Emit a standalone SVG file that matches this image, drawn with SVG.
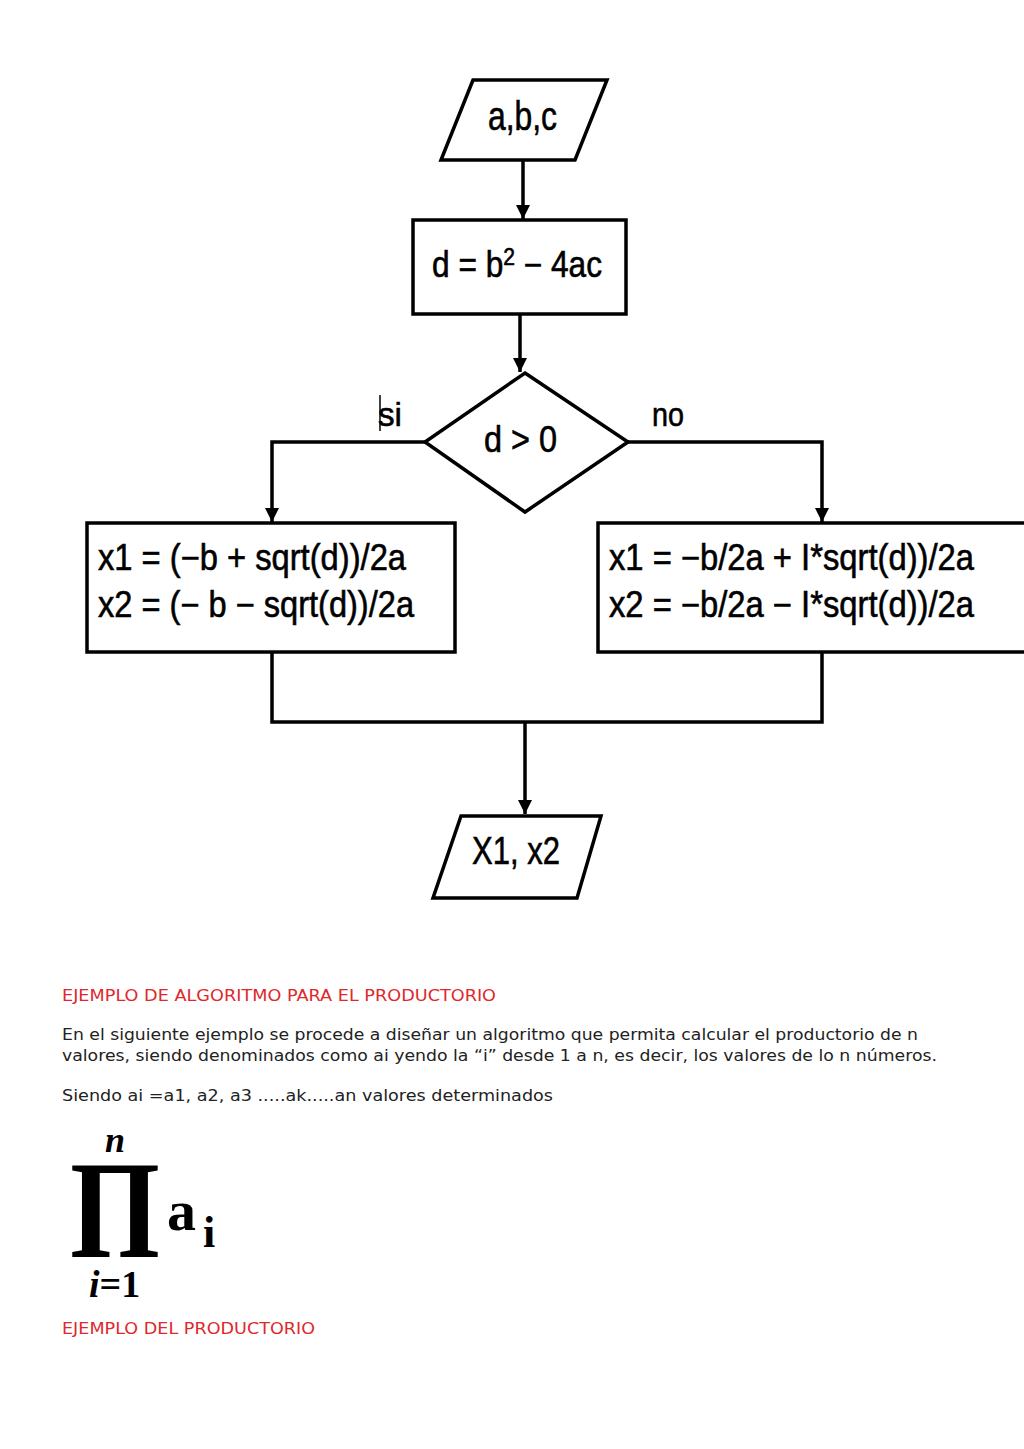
<svg xmlns="http://www.w3.org/2000/svg" width="1024" height="1449" viewBox="0 0 1024 1449">
<style>
.shape{fill:#fff;stroke:#000;stroke-width:3.5;stroke-linejoin:miter}
.conn{fill:none;stroke:#000;stroke-width:3.5}
.fc{font-family:"Liberation Sans",Arial,sans-serif;fill:#000;stroke:#000;stroke-width:0.6}
.body{font-family:"DejaVu Sans",Verdana,sans-serif;font-size:15px;fill:#222}
.red{font-family:"DejaVu Sans",Verdana,sans-serif;font-size:15px;fill:#e0282c}
.math{font-family:"Liberation Serif","Times New Roman",serif;fill:#000;font-weight:bold}
</style>
<defs>
<marker id="arr" viewBox="0 0 10 10" refX="10" refY="5" markerWidth="4" markerHeight="4" markerUnits="strokeWidth" orient="auto">
<path d="M0,0 L10,5 L0,10 z" fill="#000"/>
</marker>
</defs>
<rect width="1024" height="1449" fill="#fff"/>
<g id="connectors">
<line class="conn" x1="523" y1="161" x2="523" y2="219" marker-end="url(#arr)"/>
<line class="conn" x1="520" y1="314" x2="520" y2="372" marker-end="url(#arr)"/>
<polyline class="conn" points="425,442 272,442 272,522" marker-end="url(#arr)"/>
<polyline class="conn" points="628,442 822,442 822,522" marker-end="url(#arr)"/>
<polyline class="conn" points="272,652 272,722 822,722 822,652"/>
<line class="conn" x1="525" y1="722" x2="525" y2="814" marker-end="url(#arr)"/>
<text class="fc" x="378" y="426" font-size="34" textLength="24" lengthAdjust="spacingAndGlyphs">si</text>
<line x1="380" y1="395" x2="380" y2="431" stroke="#000" stroke-width="1.5"/>
<text class="fc" x="652" y="426" font-size="34" textLength="32" lengthAdjust="spacingAndGlyphs">no</text>
</g>
<g id="input">
<polygon class="shape" points="473,80 607,80 575,160 441,160"/>
<text class="fc" x="488" y="130" font-size="40" textLength="69" lengthAdjust="spacingAndGlyphs">a,b,c</text>
</g>
<g id="calc-d">
<rect class="shape" x="413" y="220" width="213" height="94"/>
<text class="fc" x="432" y="277" font-size="36" textLength="170" lengthAdjust="spacingAndGlyphs">d = b<tspan font-size="24" dy="-12">2</tspan><tspan dy="12"> − 4ac</tspan></text>
</g>
<g id="decision">
<polygon class="shape" points="525,373 628,442 525,512 425,442"/>
<text class="fc" x="484" y="452" font-size="36" textLength="73" lengthAdjust="spacingAndGlyphs">d &gt; 0</text>
</g>
<g id="real-roots">
<rect class="shape" x="87" y="523" width="368" height="129"/>
<text class="fc" x="98" y="570" font-size="36" textLength="308" lengthAdjust="spacingAndGlyphs">x1 = (−b + sqrt(d))/2a</text>
<text class="fc" x="98" y="617" font-size="36" textLength="316" lengthAdjust="spacingAndGlyphs">x2 = (− b − sqrt(d))/2a</text>
</g>
<g id="complex-roots">
<rect class="shape" x="598" y="523" width="440" height="129"/>
<text class="fc" x="609" y="570" font-size="36" textLength="365" lengthAdjust="spacingAndGlyphs">x1 = −b/2a + I*sqrt(d))/2a</text>
<text class="fc" x="609" y="617" font-size="36" textLength="365" lengthAdjust="spacingAndGlyphs">x2 = −b/2a − I*sqrt(d))/2a</text>
</g>
<g id="output">
<polygon class="shape" points="461,816 601,816 577,898 433,898"/>
<text class="fc" x="472" y="864" font-size="38" textLength="88" lengthAdjust="spacingAndGlyphs">X1, x2</text>
</g>
<g id="text">
<text class="red" x="62" y="1001" textLength="434" lengthAdjust="spacingAndGlyphs">EJEMPLO DE ALGORITMO PARA EL PRODUCTORIO</text>
<text class="body" x="62" y="1040" textLength="856" lengthAdjust="spacingAndGlyphs">En el siguiente ejemplo se procede a diseñar un algoritmo que permita calcular el productorio de n</text>
<text class="body" x="62" y="1061" textLength="875" lengthAdjust="spacingAndGlyphs">valores, siendo denominados como ai yendo la “i” desde 1 a n, es decir, los valores de lo n números.</text>
<text class="body" x="62" y="1101" textLength="491" lengthAdjust="spacingAndGlyphs">Siendo ai =a1, a2, a3 .....ak.....an valores determinados</text>
<text class="math" x="105" y="1152" font-size="36" font-style="italic">n</text>
<text class="math" x="70" y="1257" font-size="139" textLength="90" lengthAdjust="spacingAndGlyphs">Π</text>
<text class="math" x="167" y="1230" font-size="58">a</text>
<text class="math" x="203" y="1247" font-size="44">i</text>
<text class="math" x="89" y="1297" font-size="38"><tspan font-style="italic">i</tspan>=1</text>
<text class="red" x="62" y="1334" textLength="253" lengthAdjust="spacingAndGlyphs">EJEMPLO DEL PRODUCTORIO</text>
</g>
</svg>
